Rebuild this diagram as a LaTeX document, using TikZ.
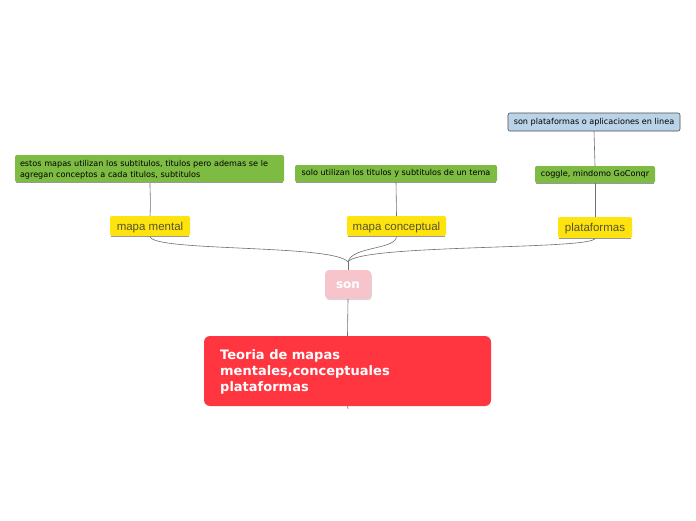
\documentclass[tikz,border=0pt]{standalone}
\usepackage{fontspec}
\setmainfont{Liberation Sans}
\newfontfamily\boldf{DejaVu Sans}
\newfontfamily\smallf{DejaVu Sans}
\usetikzlibrary{shadows}
\definecolor{mgreen}{HTML}{7DBB42}
\definecolor{myellow}{HTML}{FFE30F}
\definecolor{mblue}{HTML}{BAD3E8}
\definecolor{mpink}{HTML}{F7C4CC}
\definecolor{mred}{HTML}{FF3640}
\definecolor{ytext}{HTML}{55552A}
\definecolor{conn}{HTML}{707070}
\begin{document}
\begin{tikzpicture}[x=1pt,y=-1pt,
  box/.style={rounded corners=2pt, inner sep=0pt, draw=none},
  greenbox/.style={box, fill=mgreen, font=\smallf\fontsize{8.1}{10.5}\selectfont, text=black},
  yellowbox/.style={box, fill=myellow, font=\fontsize{11.5}{13}\selectfont, text=ytext},
  under/.style={draw=gray!80, line width=1pt},
  link/.style={draw=conn, line width=0.6pt}]
\useasboundingbox[fill=white] (0,0) rectangle (696,520);

% nodes
\node[greenbox, minimum width=269pt, minimum height=27pt] (g1) at (149.5,168.5) {};
\node[anchor=center, inner sep=0pt, text width=259pt, align=left, text=black,
  font=\smallf\fontsize{8.1}{10.5}\selectfont] (g1t) at ([yshift=-1.5pt]g1.center)
  {estos mapas utilizan los subtitulos, titulos pero ademas se le\\agregan conceptos a cada titulos, subtitulos};
\node[greenbox, minimum width=202pt, minimum height=17pt] (g2) at (396,173.5)
  {solo utilizan los titulos y subtitulos de un tema};
\node[box, fill=mblue, draw=gray!60!black, line width=0.6pt, minimum width=172pt, minimum height=18pt,
  font=\smallf\fontsize{8.1}{10}\selectfont] (b1) at (594,122)
  {son plataformas o aplicaciones en linea};
\node[greenbox, minimum width=120pt, minimum height=17pt] (g3) at (595,174.5)
  {coggle, mindomo GoConqr};
\node[yellowbox, minimum width=80pt, minimum height=20pt] (y1) at (150,226) {};
\node[yellowbox, minimum width=99pt, minimum height=20pt] (y2) at (396.5,226) {};
\node[yellowbox, minimum width=74pt, minimum height=21pt] (y3) at (595,227.5) {};
\node[yellowbox, fill=none, inner sep=0pt] (y1t) at ([yshift=-1.5pt]y1.center) {mapa mental};
\node[yellowbox, fill=none, inner sep=0pt] (y2t) at ([yshift=-1.5pt]y2.center) {mapa conceptual};
\node[yellowbox, fill=none, inner sep=0pt] (y3t) at ([yshift=-1.5pt]y3.center) {plataformas};
\node[box, rounded corners=4pt, fill=mpink, minimum width=46pt, minimum height=29pt,
  drop shadow={shadow xshift=0.8pt, shadow yshift=-1.2pt, opacity=0.3}] (son) at (348,284.5) {};
\node[inner sep=0pt, font=\boldf\bfseries\fontsize{12}{14}\selectfont, text=white] (sont) at ([yshift=-1pt]son.center) {son};
\node[box, rounded corners=6pt, fill=mred, minimum width=287pt, minimum height=70pt] (red) at (347.5,371) {};
\node[anchor=north west, inner sep=0pt, text=white, align=left,
  font=\boldf\bfseries\fontsize{13}{16}\selectfont] (redtxt) at (220,349)
  {Teoria de mapas\\mentales,conceptuales\\plataformas};

% bottom shading lines
\foreach \n in {g1,g2,g3,y1,y2,y3}{
  \draw[under] ([xshift=1pt]\n.south west) -- ([xshift=-1pt]\n.south east);
}

% connectors
\coordinate (j) at (348,262);
\coordinate (g1b) at (150,183);
\draw[link] (g1b) .. controls (150,196) and (151,200) .. (y1.north);
\draw[link] (g2.south) -- (y2.north);
\draw[link] (b1.south) -- (g3.north);
\draw[link] (g3.south) -- (y3.north);
\draw[link] (y1.south) .. controls (150,252) and (335,244) .. (j);
\draw[link] (y2.south) .. controls (396,250) and (352,246) .. (j);
\draw[link] (y3.south) .. controls (595,250) and (358,244) .. (j);
\draw[link] (j) -- (son.north);
\draw[link] (son.south) -- (red.north);
\coordinate (rb) at (348,409);
\draw[link] (red.south) -- (rb);
\end{tikzpicture}
\end{document}
